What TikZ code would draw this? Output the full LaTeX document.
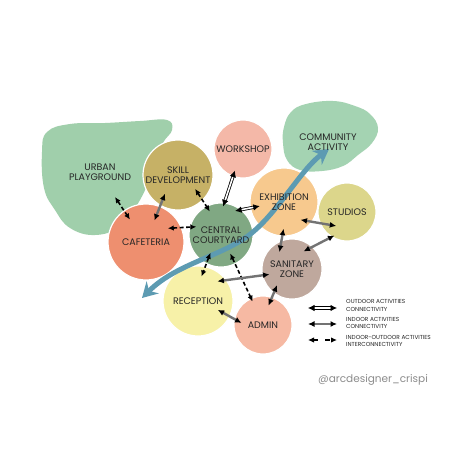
\documentclass[tikz,border=0pt]{standalone}
\usepackage{fontspec}
\setmainfont{Poppins}
\usepackage{tikz}
\usetikzlibrary{arrows.meta}

\definecolor{mint}{HTML}{A0CFAB}
\definecolor{mintb}{HTML}{A4D3B2}
\definecolor{workc}{HTML}{F4B8A8}
\definecolor{skillc}{HTML}{C6B166}
\definecolor{courtc}{HTML}{80A883}
\definecolor{cafec}{HTML}{EE8F6F}
\definecolor{exhibc}{HTML}{F7C98E}
\definecolor{studioc}{HTML}{DCD68B}
\definecolor{sanitc}{HTML}{BFA89D}
\definecolor{recepc}{HTML}{F7F1A8}
\definecolor{adminc}{HTML}{F6B9A3}
\definecolor{flowc}{HTML}{5D9BB2}
\definecolor{txt}{HTML}{262626}

\begin{document}
\begin{tikzpicture}[x=1pt, y=-1pt,
	zone/.style={circle, draw=white, line width=1.2pt, minimum size=#1, inner sep=0pt},
	lbl/.style={align=center, font=\fontsize{9.5}{10.5}\selectfont, text=txt, inner sep=0pt},
	key/.style={align=left, anchor=west, font=\fontsize{5.8}{7.5}\selectfont, text=txt, inner sep=0pt},
	link/.style={line width=1.6pt, dash pattern=on 4pt off 2.5pt, {Latex[length=6pt,width=5.5pt]}-{Latex[length=6pt,width=5.5pt]}},
	outdoor/.style={draw=black, double=white, double distance=1.6pt, line width=0.8pt, {Latex[length=6.5pt,width=6.5pt]}-{Latex[length=6.5pt,width=6.5pt]}},
	indoor/.style={draw=black!55, line width=2.4pt, {Latex[length=6.5pt,width=6pt,black]}-{Latex[length=6.5pt,width=6pt,black]}},
	flow/.style={draw=flowc, line width=5pt, {Stealth[length=15pt,width=17pt,inset=5pt]}-{Stealth[length=15pt,width=17pt,inset=5pt]}}
	]
	\fill[white] (0,0) rectangle (474,474);
	\useasboundingbox (0,0) rectangle (474,474);

	\fill[mint] plot[smooth cycle, tension=0.7] coordinates {(42,152) (47,132) (70,124) (105,123) (140,121) (167,120) (172,130) (163,143) (155,165) (140,200) (120,226) (95,235) (70,228) (55,210) (44,188)};
	\fill[mintb] plot[smooth cycle, tension=0.7] coordinates {(284,127) (291,112) (306,104) (333,101) (355,106) (370,114) (378,128) (372,143) (358,155) (343,166) (322,171) (300,170) (287,160) (283,143)};

	\node[zone=58pt, fill=workc] (work) at (243,149) {};
	\node[zone=70pt, fill=skillc] (skill) at (178,175) {};
	\node[zone=76pt, fill=cafec] (cafe) at (146,242) {};
	\node[zone=64pt, fill=courtc] (court) at (221,235) {};
	\node[zone=68pt, fill=exhibc] (exhib) at (284,202) {};
	\node[zone=58pt, fill=studioc] (studio) at (347,212) {};
	\node[zone=60pt, fill=sanitc] (sanit) at (292,269) {};
	\node[zone=70pt, fill=recepc] (recep) at (198,301) {};
	\node[zone=58pt, fill=adminc] (admin) at (263,325) {};

	\coordinate (flow-s) at (142,298);
	\coordinate (flow-m) at (245,238);
	\coordinate (flow-e) at (329,149);
	\draw[flow] (flow-s) .. controls (175,265) and (215,258) .. (flow-m) .. controls (275,218) and (300,170) .. (flow-e);

	\node[lbl] (urban) at (100,172) {URBAN\\PLAYGROUND};
	\node[lbl] (commun) at (328,142) {COMMUNITY\\ACTIVITY};
	\node[lbl] (work-t) at (work) {WORKSHOP};
	\node[lbl] (skill-t) at (skill) {SKILL\\DEVELOPMENT};
	\node[lbl] (cafe-t) at (cafe) {CAFETERIA};
	\node[lbl] (court-t) at (court) {CENTRAL\\COURTYARD};
	\node[lbl] (exhib-t) at (exhib) {EXHIBITION\\ZONE};
	\node[lbl] (studio-t) at (studio) {STUDIOS};
	\node[lbl] (sanit-t) at (sanit) {SANITARY\\ZONE};
	\node[lbl] (recep-t) at (recep) {RECEPTION};
	\node[lbl] (admin-t) at (admin) {ADMIN};

	\coordinate (upl) at (115,197);
	\draw[link, shorten >=-11pt] (upl) -- (cafe.125);
	\draw[link, shorten <=-14pt, shorten >=-6.5pt] (skill.314) -- (court.117);
	\draw[link, shorten <=-14pt, shorten >=-7pt] (cafe.22) -- (court.166);
	\draw[link, shorten <=-12pt, shorten >=-11pt] (court.243) -- (recep.78);
	\draw[link, shorten <=-12pt, shorten >=-4pt] (court.296) -- (admin.114);

	\draw[outdoor, shorten <=-6.5pt, shorten >=-4pt] (work.250) -- (court.84);
	\draw[outdoor, shorten <=-6.5pt, shorten >=-10pt] (court.51) -- (exhib.190);

	\draw[indoor, shorten <=-13pt, shorten >=23pt] (skill.240) -- (cafe.center);
	\draw[indoor, shorten <=-12pt, shorten >=-17pt] (exhib.325) -- (studio.202);
	\draw[indoor, shorten <=-8pt, shorten >=-12pt] (exhib.267) -- (sanit.110);
	\draw[indoor, shorten <=-10.5pt, shorten >=-3.5pt] (sanit.47) -- (studio.238);
	\draw[indoor, shorten <=-9.5pt, shorten >=-7.5pt] (recep.36) -- (sanit.192);
	\draw[indoor, shorten <=-9pt, shorten >=-9.5pt] (sanit.233) -- (admin.72);
	\draw[indoor, shorten <=-14pt, shorten >=-8.5pt] (recep.334) -- (admin.168);

	\node[key] (key1) at (346,305.5) {OUTDOOR ACTIVITIES\\CONNECTIVITY};
	\node[key] (key2) at (346,323) {INDOOR ACTIVITIES\\CONNECTIVITY};
	\node[key] (key3) at (346,341) {INDOOR-OUTDOOR ACTIVITIES\\INTERCONNECTIVITY};
	\coordinate (k1a) at (308,308);
	\coordinate (k1b) at (337,308);
	\coordinate (k2a) at (308,324);
	\coordinate (k2b) at (337,324);
	\coordinate (k3a) at (308,340);
	\coordinate (k3b) at (337,340);
	\draw[outdoor] (k1a) -- (k1b);
	\draw[indoor] (k2a) -- (k2b);
	\draw[link, dash pattern=on 5pt off 7pt] (k3a) -- (k3b);

	\node[font=\fontsize{10.5}{12}\selectfont, text=black!45] (tag) at (373,380) {@arcdesigner\_crispi};
\end{tikzpicture}
\end{document}
